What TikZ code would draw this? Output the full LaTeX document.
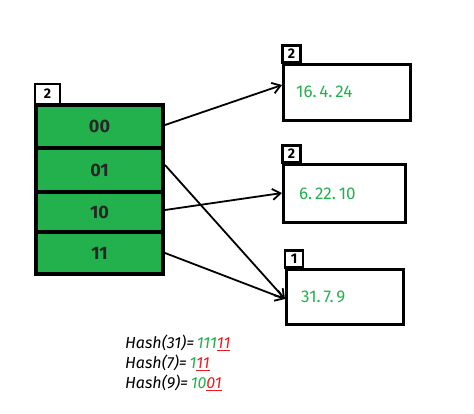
\documentclass[tikz,border=0pt]{standalone}
\usepackage{fontspec}
\setmainfont{Fira Sans}
\usetikzlibrary{arrows.meta,calc}
\definecolor{pgreen}{RGB}{34,177,76}
\definecolor{pred}{RGB}{237,28,36}
\tikzset{
  cell/.style={draw=black, fill=pgreen, line width=4pt, minimum width=127pt, inner sep=0pt, font=\fontsize{18}{20}\selectfont\bfseries, text=black!85},
  depth/.style={draw=black, fill=white, line width=2.5pt, inner sep=0pt, font=\fontsize{14}{16}\selectfont\bfseries},
  bucket/.style={draw=black, fill=white, line width=3pt, inner sep=0pt},
  vals/.style={anchor=west, inner sep=0pt, text=pgreen, font=\fontsize{17}{19}\selectfont},
  ptr/.style={line width=1.8pt, -{Straight Barb[length=8pt,width=11pt,line width=1.8pt]}},
  hashline/.style={anchor=west, inner sep=0pt, font=\fontsize{16}{18}\selectfont\itshape}
}
\begin{document}
\begin{tikzpicture}[x=1pt,y=-1pt]
\useasboundingbox[fill=white] (0,0) rectangle (474,413);
% directory
\node[cell, minimum height=43pt] (c00) at (99.5,126.5) {00};
\node[cell, minimum height=44pt] (c01) at (99.5,170) {01};
\node[cell, minimum height=40pt] (c10) at (99.5,212) {10};
\node[cell, minimum height=42pt] (c11) at (99.5,253) {11};
\node[depth, minimum width=25pt, minimum height=20pt] (gd) at (47.5,94) {2};
% buckets
\node[bucket, minimum width=127pt, minimum height=56pt] (b1) at (347,92.5) {};
\node[depth, minimum width=18pt, minimum height=17pt] (d1) at (291.5,54) {2};
\node[vals] (v1) at (296,92) {16.\,4.\,24};
\node[bucket, minimum width=122pt, minimum height=58pt] (b2) at (344.5,193.5) {};
\node[depth, minimum width=18pt, minimum height=17pt] (d2) at (291.5,154) {2};
\node[vals] (v2) at (299,194) {6.\,22.\,10};
\node[bucket, minimum width=117pt, minimum height=55pt] (b3) at (345,297) {};
\node[depth, minimum width=18pt, minimum height=17pt] (d3) at (294,259) {1};
\node[vals] (v3) at (301,297) {31.\,7.\,9};
% pointers
\draw[ptr] ($(c00.east)+(0,-1.5)$) -- ($(b1.west)+(0,-7.5)$);
\draw[ptr] ($(c01.east)+(0,-5)$) -- ($(b3.west)+(0,2)$);
\draw[ptr] ($(c10.east)+(0,-2)$) -- ($(b2.west)+(0,-0.5)$);
\draw[ptr] (c11.east) -- ($(b3.west)+(0,2)$);
% hash text
\node[hashline] (h1) at (125,343) {Hash(31)=\,\textcolor{pgreen}{111}{\color{pred}\underline{11}}};
\node[hashline] (h2) at (125,363) {Hash(7)=\,\textcolor{pgreen}{1}{\color{pred}\underline{11}}};
\node[hashline] (h3) at (125,383) {Hash(9)=\,\textcolor{pgreen}{10}{\color{pred}\underline{01}}};
\end{tikzpicture}
\end{document}
